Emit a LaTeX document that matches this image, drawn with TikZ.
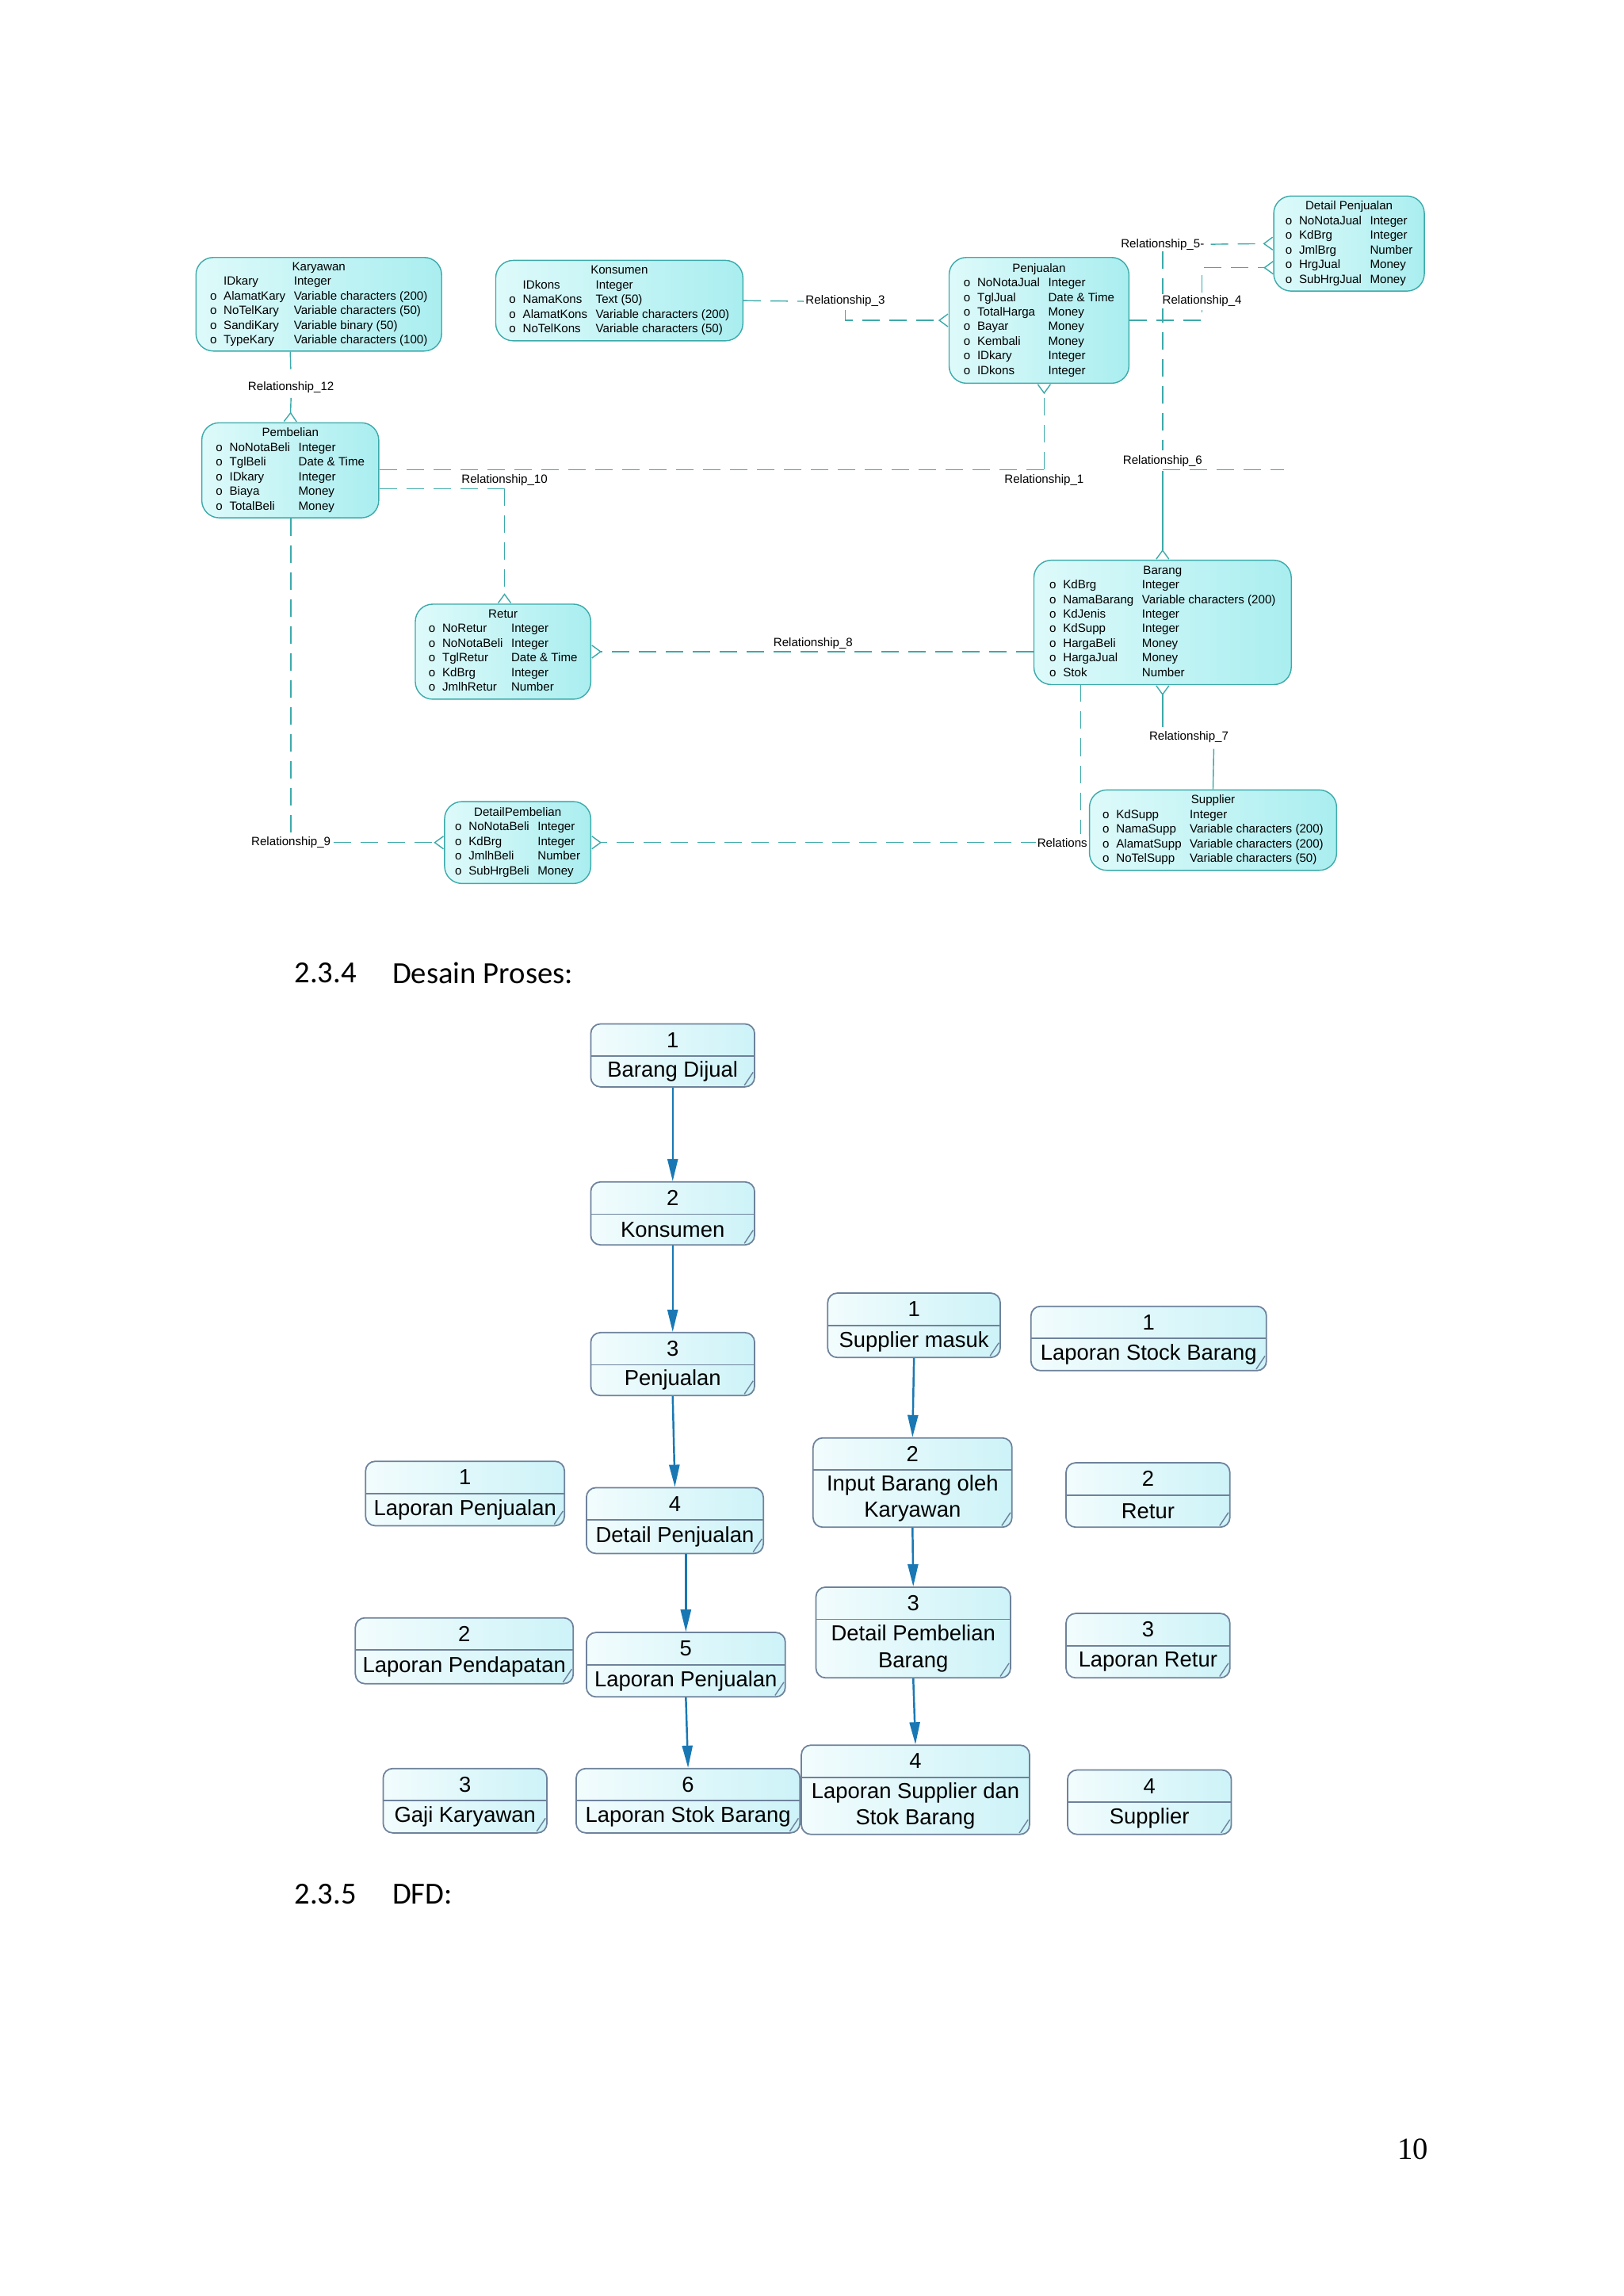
\documentclass[tikz,border=0pt]{standalone}
\usepackage{fontspec}
\setmainfont{Liberation Sans}
\newfontfamily\headfont{Carlito}
\newfontfamily\pagefont{Liberation Serif}
\usetikzlibrary{arrows.meta,fit,positioning}
\definecolor{erline}{RGB}{60,170,170}
\definecolor{erfillA}{RGB}{222,250,250}
\definecolor{erfillB}{RGB}{170,238,240}
\definecolor{prline}{RGB}{110,130,155}
\definecolor{prfillA}{RGB}{242,252,253}
\definecolor{prfillB}{RGB}{205,243,248}
\definecolor{flowblue}{RGB}{25,120,180}
\newcommand{\erfont}{\fontsize{4.3}{5.25}\selectfont}
\newcommand{\prfont}{\fontsize{7.8}{9.4}\selectfont}

\begin{document}
\begin{tikzpicture}[x=0.01845cm,y=-0.01845cm,
    entity/.style={draw=erline,rounded corners=2.2mm,left color=erfillA,right color=erfillB,inner sep=0pt,line width=0.4pt},
    etext/.style={inner sep=0pt,font=\erfont},
    rlabel/.style={font=\erfont,fill=white,inner sep=0.6pt},
    rel/.style={draw=erline,dash pattern=on 2.2mm off 1.2mm,line width=0.4pt},
    solidrel/.style={draw=erline,line width=0.4pt},
    cf/.style={-{Straight Barb[reversed,length=1.1mm,width=1.6mm]}},
    proc/.style={draw=prline,rounded corners=1.2mm,left color=prfillA,right color=prfillB,inner sep=0pt,line width=0.5pt},
    ptext/.style={font=\prfont,align=center,inner sep=0pt},
    flow/.style={draw=flowblue,line width=0.7pt,-{Triangle[length=2.8mm,width=1.3mm]}}
    ]
    \useasboundingbox (0,0) rectangle (1110,1569.6);

    %% Entities
    \node[entity,fit={(134,176)(302,240)}] (karyawan) {};
    \node[etext] (karyawan-t) at (karyawan.center) {\begin{tabular}{@{}l@{\hspace{2.5pt}}l@{\hspace{3pt}}l@{}}
        \multicolumn{3}{c}{Karyawan}\\
        * & IDkary & Integer\\
        o & AlamatKary & Variable characters (200)\\
        o & NoTelKary & Variable characters (50)\\
        o & SandiKary & Variable binary (50)\\
        o & TypeKary & Variable characters (100)
    \end{tabular}};

    \node[entity,fit={(339,178)(508,233)}] (konsumen) {};
    \node[etext] (konsumen-t) at (konsumen.center) {\begin{tabular}{@{}l@{\hspace{2.5pt}}l@{\hspace{3pt}}l@{}}
        \multicolumn{3}{c}{Konsumen}\\
        * & IDkons & Integer\\
        o & NamaKons & Text (50)\\
        o & AlamatKons & Variable characters (200)\\
        o & NoTelKons & Variable characters (50)
    \end{tabular}};

    \node[entity,fit={(649,176)(772,262)}] (penjualan) {};
    \node[etext] (penjualan-t) at (penjualan.center) {\begin{tabular}{@{}l@{\hspace{2.5pt}}l@{\hspace{3pt}}l@{}}
        \multicolumn{3}{c}{Penjualan}\\
        o & NoNotaJual & Integer\\
        o & TglJual & Date \& Time\\
        o & TotalHarga & Money\\
        o & Bayar & Money\\
        o & Kembali & Money\\
        o & IDkary & Integer\\
        o & IDkons & Integer
    \end{tabular}};

    \node[entity,fit={(871,134)(974,199)}] (dpenjualan) {};
    \node[etext] (dpenjualan-t) at (dpenjualan.center) {\begin{tabular}{@{}l@{\hspace{2.5pt}}l@{\hspace{3pt}}l@{}}
        \multicolumn{3}{c}{Detail Penjualan}\\
        o & NoNotaJual & Integer\\
        o & KdBrg & Integer\\
        o & JmlBrg & Number\\
        o & HrgJual & Money\\
        o & SubHrgJual & Money
    \end{tabular}};

    \node[entity,fit={(138,289)(259,354)}] (pembelian) {};
    \node[etext] (pembelian-t) at (pembelian.center) {\begin{tabular}{@{}l@{\hspace{2.5pt}}l@{\hspace{3pt}}l@{}}
        \multicolumn{3}{c}{Pembelian}\\
        o & NoNotaBeli & Integer\\
        o & TglBeli & Date \& Time\\
        o & IDkary & Integer\\
        o & Biaya & Money\\
        o & TotalBeli & Money
    \end{tabular}};

    \node[entity,fit={(284,413)(404,478)}] (retur) {};
    \node[etext] (retur-t) at (retur.center) {\begin{tabular}{@{}l@{\hspace{2.5pt}}l@{\hspace{3pt}}l@{}}
        \multicolumn{3}{c}{Retur}\\
        o & NoRetur & Integer\\
        o & NoNotaBeli & Integer\\
        o & TglRetur & Date \& Time\\
        o & KdBrg & Integer\\
        o & JmlhRetur & Number
    \end{tabular}};

    \node[entity,fit={(707,383)(883,468)}] (barang) {};
    \node[etext] (barang-t) at (barang.center) {\begin{tabular}{@{}l@{\hspace{2.5pt}}l@{\hspace{3pt}}l@{}}
        \multicolumn{3}{c}{Barang}\\
        o & KdBrg & Integer\\
        o & NamaBarang & Variable characters (200)\\
        o & KdJenis & Integer\\
        o & KdSupp & Integer\\
        o & HargaBeli & Money\\
        o & HargaJual & Money\\
        o & Stok & Number
    \end{tabular}};

    \node[entity,fit={(745,540)(914,595)}] (supplier) {};
    \node[etext] (supplier-t) at (supplier.center) {\begin{tabular}{@{}l@{\hspace{2.5pt}}l@{\hspace{3pt}}l@{}}
        \multicolumn{3}{c}{Supplier}\\
        o & KdSupp & Integer\\
        o & NamaSupp & Variable characters (200)\\
        o & AlamatSupp & Variable characters (200)\\
        o & NoTelSupp & Variable characters (50)
    \end{tabular}};

    \node[entity,fit={(304,548)(404,604)}] (dpembelian) {};
    \node[etext] (dpembelian-t) at (dpembelian.center) {\begin{tabular}{@{}l@{\hspace{2.5pt}}l@{\hspace{3pt}}l@{}}
        \multicolumn{3}{c}{DetailPembelian}\\
        o & NoNotaBeli & Integer\\
        o & KdBrg & Integer\\
        o & JmlhBeli & Number\\
        o & SubHrgBeli & Money
    \end{tabular}};

    %% Relationships
    \coordinate (r1c) at (714,321);
    \coordinate (r4c) at (871,183);
    \coordinate (r6end) at (878,321);
    \coordinate (r10c) at (345,334);
    \coordinate (r11c) at (739,468);
    \draw[rel] (karyawan.south -| pembelian.north) -- (199,258);
    \draw[rel,cf] (199,272) -- (pembelian.north);
    \draw[rel] (konsumen.east) -- (550,206);
    \draw[rel,cf] (578,212) |- (penjualan.west);
    \draw[rel,cf] (828,167) -- (dpenjualan.west);
    \draw[rel] (795,172) -- (795,308);
    \draw[solidrel,cf] (795,322) -- (barang.north);
    \draw[rel] (795,321) -- (r6end);
    \draw[rel] (penjualan.east) -| (822,212);
    \draw[rel,cf] (822,200) |- (r4c);
    \draw[rel,cf] (r1c) -- (penjualan.south -| r1c);
    \draw[rel] (r1c) -- (pembelian.east |- r1c);
    \draw[rel] (pembelian.east |- r10c) -- (r10c);
    \draw[rel,cf] (r10c) -- (retur.north -| r10c);
    \draw[rel,cf] (barang.west |- retur.east) -- (retur.east);
    \draw[rel] (pembelian.south -| 199,0) -- (199,570);
    \draw[rel,cf] (228,576) -- (dpembelian.west);
    \draw[rel,cf] (710,576) -- (dpembelian.east);
    \draw[rel] (r11c) -- (739,570);
    \draw[solidrel,cf] (795,497) -- (barang.south);
    \draw[solidrel] (830,512) -- (supplier.north);

    \node[rlabel] (r12) at (199,265) {Relationship\_12};
    \node[rlabel] (r3) at (578,206) {Relationship\_3};
    \node[rlabel] (r5) at (795,167) {Relationship\_5-};
    \node[rlabel] (r4) at (822,206) {Relationship\_4};
    \node[rlabel] (r6) at (795,315) {Relationship\_6};
    \node[rlabel] (r1) at (714,328) {Relationship\_1};
    \node[rlabel] (r10) at (345,328) {Relationship\_10};
    \node[rlabel] (r8) at (556,440) {Relationship\_8};
    \node[rlabel] (r9) at (199,576) {Relationship\_9};
    \node[rlabel,anchor=east] (r11) at (745,576) {Relations};
    \node[rlabel] (r7) at (813,504) {Relationship\_7};

    %% Headings
    \node[anchor=west,font=\headfont\fontsize{11}{13}\selectfont,inner sep=0pt] (h234) at (201,665) {2.3.4};
    \node[anchor=west,font=\headfont\fontsize{11}{13}\selectfont,inner sep=0pt] (h234t) at (268,665) {Desain Proses:};
    \node[anchor=west,font=\headfont\fontsize{11}{13}\selectfont,inner sep=0pt] (h235) at (201,1295) {2.3.5};
    \node[anchor=west,font=\headfont\fontsize{11}{13}\selectfont,inner sep=0pt] (h235t) at (268,1295) {DFD:};
    \node[font=\pagefont\fontsize{11}{13}\selectfont,inner sep=0pt] (pagenum) at (966,1469) {10};

    %% Processes
    \foreach \n/\xa/\ya/\xb/\yb/\yd/\num/\lbl in {
        bdijual/404/700/516/743/722/1/{Barang Dijual},
        kons/404/808/516/851/830/2/{Konsumen},
        penj/404/911/516/954/933/3/{Penjualan},
        detpenj/401/1017/522/1062/1039/4/{Detail Penjualan},
        lappenj/401/1116/537/1160/1138/5/{Laporan Penjualan},
        lapstok/394/1209/547/1253/1231/6/{Laporan Stok Barang},
        supmasuk/566/884/684/928/906/1/{Supplier masuk},
        inputbrg/556/983/692/1044/1005/2/{Input Barang oleh\\Karyawan},
        detbeli/558/1085/691/1147/1107/3/{Detail Pembelian\\Barang},
        lapsupp/548/1193/704/1254/1215/4/{Laporan Supplier dan\\Stok Barang},
        lpenj/250/999/386/1043/1021/1/{Laporan Penjualan},
        lpend/243/1106/392/1151/1128/2/{Laporan Pendapatan},
        gaji/262/1209/374/1253/1231/3/{Gaji Karyawan},
        lstock/705/893/866/937/915/1/{Laporan Stock Barang},
        retur2/729/1000/841/1044/1022/2/{Retur},
        lretur/729/1103/841/1147/1125/3/{Laporan Retur},
        supp/730/1210/842/1254/1232/4/{Supplier}}
    {
    \node[proc,fit={(\xa,\ya)(\xb,\yb)}] (\n) {};
    \draw[prline,line width=0.5pt] (\xa,\yd) -- (\xb,\yd);
    \draw[prline,line width=0.4pt] (\xb-1,\yb-10) -- (\xb-7,\yb-1);
    \node[ptext] (\n-num) at ({(\xa+\xb)/2},{(\ya+\yd)/2}) {\num};
    \node[ptext] (\n-lbl) at ({(\xa+\xb)/2},{(\yd+\yb)/2}) {\lbl};
    }

    %% Flows
    \draw[flow] (bdijual.south) -- (kons.north);
    \draw[flow] (kons.south) -- (penj.north);
    \draw[flow] (penj.south) -- (detpenj.north);
    \draw[flow] (detpenj.south -| lappenj.north) -- (lappenj.north);
    \draw[flow] (lappenj.south) -- (lapstok.north);
    \draw[flow] (supmasuk.south) -- (inputbrg.north);
    \draw[flow] (inputbrg.south) -- (detbeli.north);
    \draw[flow] (detbeli.south) -- (lapsupp.north);
\end{tikzpicture}
\end{document}
